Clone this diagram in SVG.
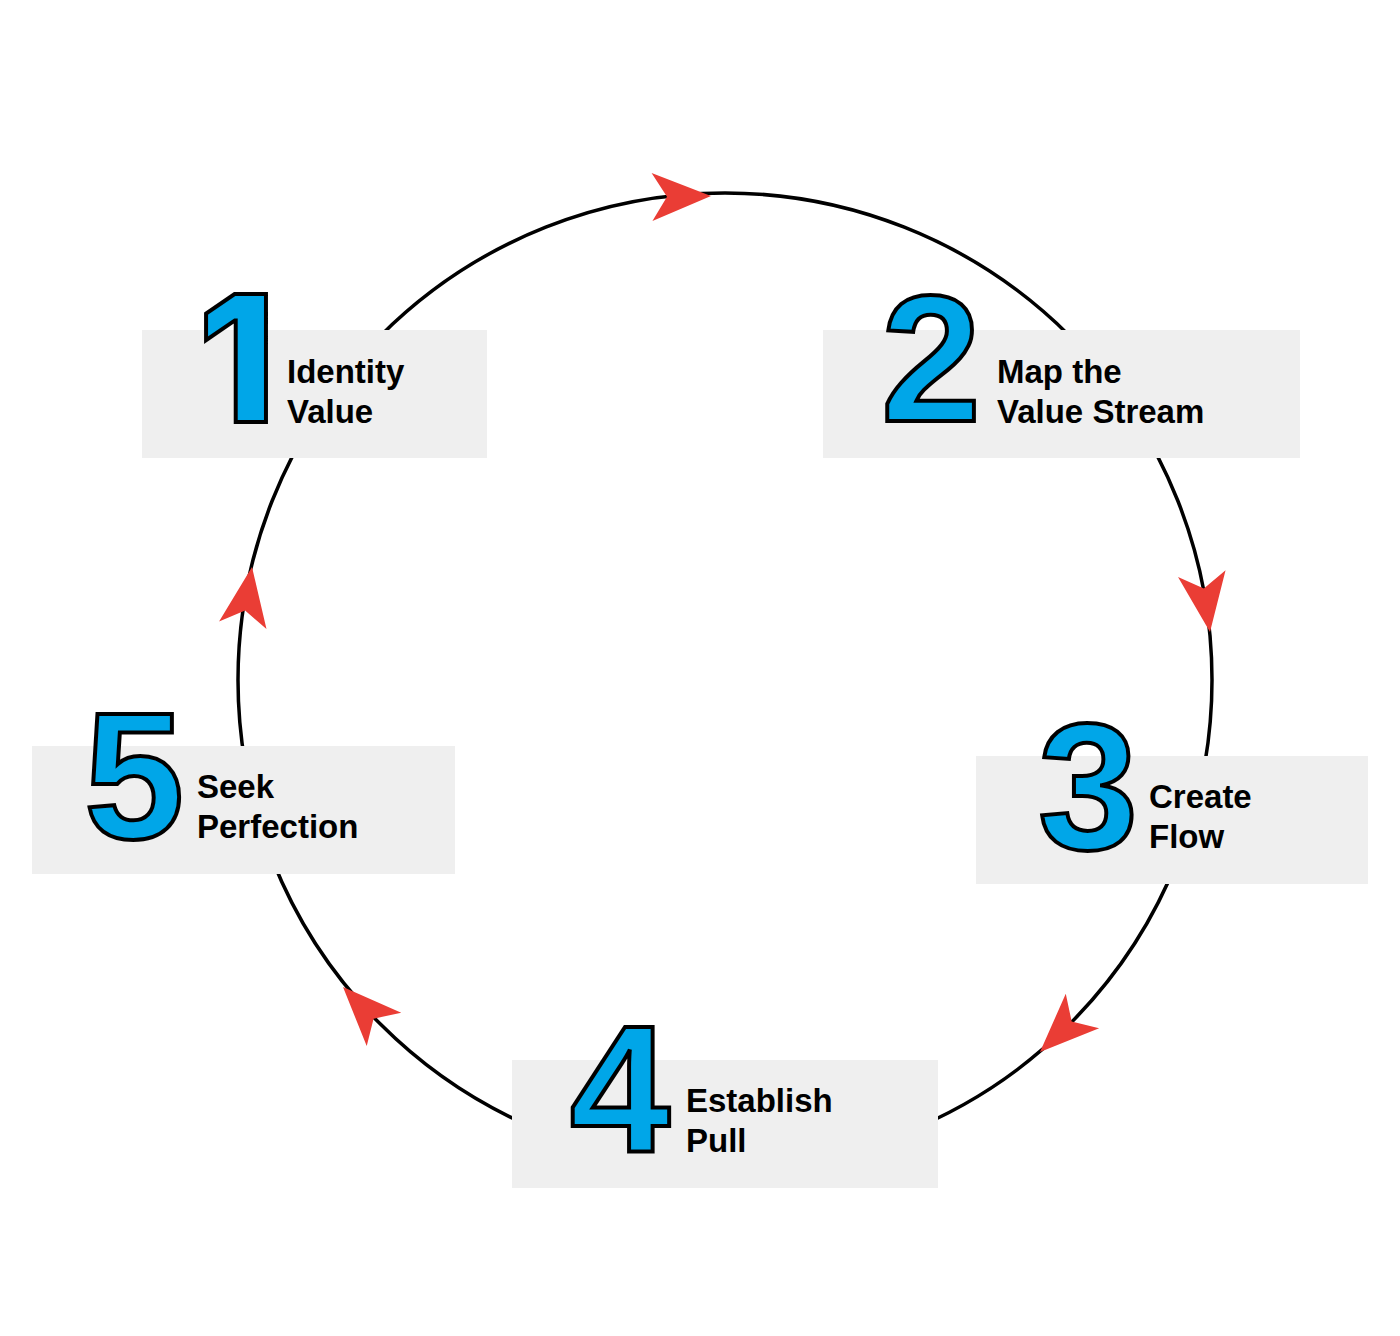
<svg xmlns="http://www.w3.org/2000/svg" width="1400" height="1336" viewBox="0 0 1400 1336">
<style>
.box{fill:#efefef}
.num{font-family:"Liberation Sans",Arial,sans-serif;font-weight:bold;font-size:180px;fill:#00a6e8;stroke:#000;stroke-width:4;text-anchor:middle}
.one{font-family:Inter,"Liberation Sans",sans-serif;font-weight:800;font-size:176px}
.lbl{font-family:"Liberation Sans",Arial,sans-serif;font-weight:bold;font-size:33px;fill:#000}
.arr{fill:#ea3d35}
</style>
<defs>
<path id="ah" d="M0,0 L-59,-24 L-44,0 L-59,24 Z"/>
</defs>
<rect width="1400" height="1336" fill="#fff"/>
<g id="connectors">
<circle cx="725" cy="680" r="487" fill="none" stroke="#000" stroke-width="3.5"/>
<use href="#ah" class="arr" transform="translate(711,196) rotate(-1)"/>
<use href="#ah" class="arr" transform="translate(1210,632) rotate(82)"/>
<use href="#ah" class="arr" transform="translate(1040,1052) rotate(136)"/>
<use href="#ah" class="arr" transform="translate(343,987) rotate(226)"/>
<use href="#ah" class="arr" transform="translate(252,567) rotate(279)"/>
</g>
<g id="node1">
<rect class="box" x="142" y="330" width="345" height="128"/>
<text class="num one" x="237" y="422">1</text>
<text class="lbl" x="287" y="383">Identity</text>
<text class="lbl" x="287" y="423">Value</text>
</g>
<g id="node2">
<rect class="box" x="823" y="330" width="477" height="128"/>
<text class="num" x="931" y="421">2</text>
<text class="lbl" x="997" y="383">Map the</text>
<text class="lbl" x="997" y="423">Value Stream</text>
</g>
<g id="node3">
<rect class="box" x="976" y="756" width="392" height="128"/>
<text class="num" x="1088" y="849">3</text>
<text class="lbl" x="1149" y="808">Create</text>
<text class="lbl" x="1149" y="848">Flow</text>
</g>
<g id="node4">
<rect class="box" x="512" y="1060" width="426" height="128"/>
<text class="num" x="620" y="1151">4</text>
<text class="lbl" x="686" y="1112">Establish</text>
<text class="lbl" x="686" y="1152">Pull</text>
</g>
<g id="node5">
<rect class="box" x="32" y="746" width="423" height="128"/>
<text class="num" x="134" y="838">5</text>
<text class="lbl" x="197" y="798">Seek</text>
<text class="lbl" x="197" y="838">Perfection</text>
</g>
</svg>
